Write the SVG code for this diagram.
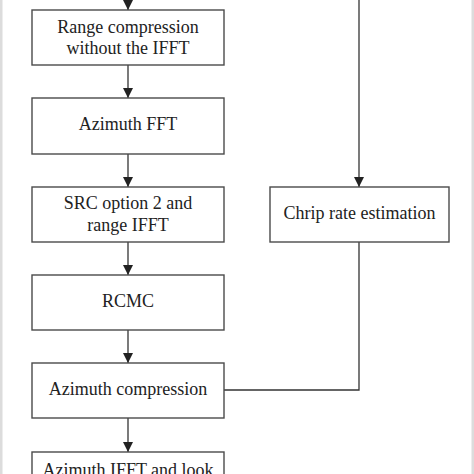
<svg xmlns="http://www.w3.org/2000/svg" width="474" height="474" viewBox="0 0 474 474">
<defs>
<marker id="arr" markerWidth="10" markerHeight="10" refX="10" refY="5" orient="auto" markerUnits="userSpaceOnUse">
<path d="M0,0 L10,5 L0,10 Z" fill="#222"/>
</marker>
<style>
.box{fill:#fff;stroke:#4a4a4a;stroke-width:1.4}
.t{font-family:"Liberation Serif","Times New Roman",serif;font-size:18px;fill:#222;text-anchor:middle}
.c{fill:none;stroke:#333;stroke-width:1.3}
</style>
</defs>
<rect x="0" y="0" width="474" height="474" fill="#fff"/>
<rect x="0" y="0" width="2.5" height="474" fill="#dcdcdc"/>
<rect x="471.5" y="0" width="2.5" height="474" fill="#dcdcdc"/>
<g id="connectors">
<line class="c" x1="128" y1="0" x2="128" y2="10" marker-end="url(#arr)"/>
<line class="c" x1="128" y1="65" x2="128" y2="98" marker-end="url(#arr)"/>
<line class="c" x1="128" y1="154" x2="128" y2="187" marker-end="url(#arr)"/>
<line class="c" x1="128" y1="242" x2="128" y2="275" marker-end="url(#arr)"/>
<line class="c" x1="128" y1="330" x2="128" y2="363" marker-end="url(#arr)"/>
<line class="c" x1="128" y1="418" x2="128" y2="452" marker-end="url(#arr)"/>
<line class="c" x1="359" y1="0" x2="359" y2="187" marker-end="url(#arr)"/>
<polyline class="c" points="359,242 359,390 224,390"/>
</g>
<g id="n1"><rect class="box" x="32" y="10" width="192" height="55"/>
<text class="t" x="128" y="33">Range compression</text><text class="t" x="128" y="54">without the IFFT</text></g>
<g id="n2"><rect class="box" x="32" y="98" width="192" height="56"/>
<text class="t" x="128" y="130">Azimuth FFT</text></g>
<g id="n3"><rect class="box" x="32" y="187" width="192" height="55"/>
<text class="t" x="128" y="209">SRC option 2 and</text><text class="t" x="128" y="230.5">range IFFT</text></g>
<g id="n4"><rect class="box" x="32" y="275" width="192" height="55"/>
<text class="t" x="128" y="307">RCMC</text></g>
<g id="n5"><rect class="box" x="32" y="363" width="192" height="55"/>
<text class="t" x="128" y="395">Azimuth compression</text></g>
<g id="n6"><rect class="box" x="32" y="452" width="192" height="40"/>
<text class="t" x="128" y="476">Azimuth IFFT and look</text></g>
<g id="n7"><rect class="box" x="270" y="187" width="179" height="55"/>
<text class="t" x="359.5" y="219">Chrip rate estimation</text></g>
</svg>
